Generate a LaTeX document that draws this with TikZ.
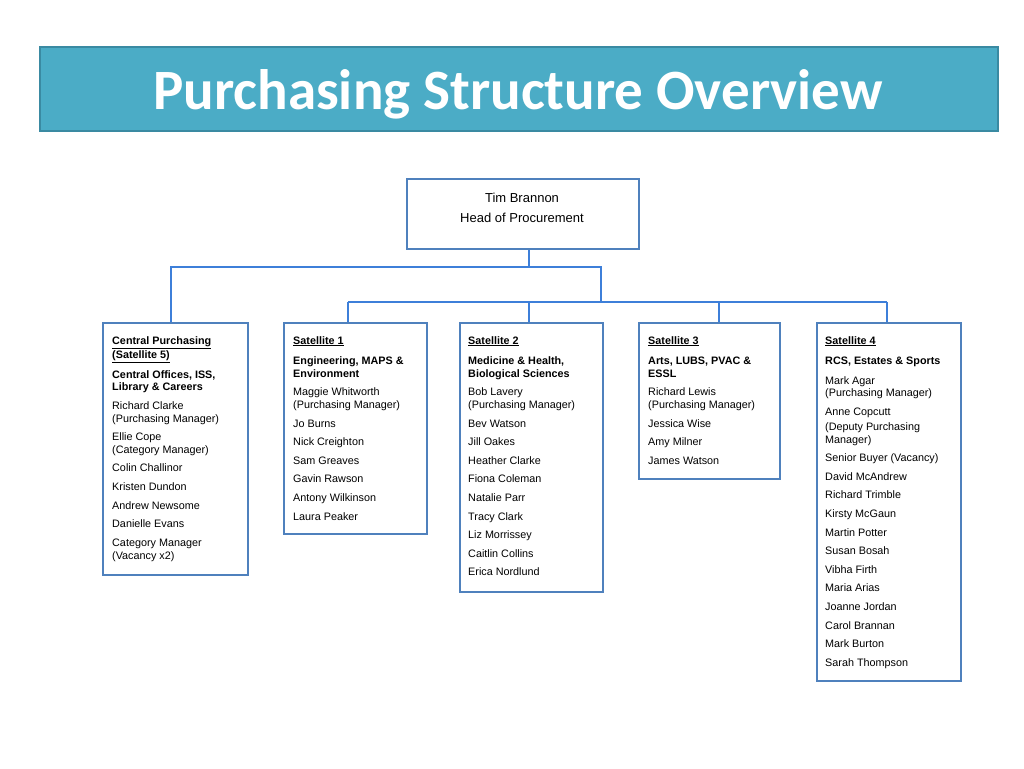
\documentclass[tikz,border=0pt]{standalone}
\usepackage{fontspec}
\setmainfont{Liberation Sans}
\newfontfamily\titlefont{Carlito}
\usetikzlibrary{calc}
\definecolor{titlefill}{HTML}{4BACC6}
\definecolor{titleedge}{HTML}{3A8AA2}
\definecolor{boxedge}{HTML}{4F81BD}
\definecolor{linkblue}{HTML}{3D7FD9}
\newcommand\hd[1]{\underline{\textbf{#1}}}
\begin{document}
\begin{tikzpicture}[x=1pt,y=-1pt,
  titlebox/.style={draw=titleedge, line width=2pt, fill=titlefill, anchor=north west, inner sep=0pt},
  orgbox/.style={draw=boxedge, line width=2pt, fill=white, anchor=north west, inner sep=0pt},
  txt/.style={anchor=north west, align=left, inner sep=0pt, font=\fontsize{10.8}{12.6}\selectfont},
  headtxt/.style={anchor=north, align=center, inner sep=0pt, font=\fontsize{13}{20}\selectfont},
  link/.style={draw=linkblue, line width=1.5pt}]
\fill[white] (0,0) rectangle (1024,768);
\useasboundingbox (0,0) rectangle (1024,768);

% title
\node[titlebox, minimum width=958pt, minimum height=84pt] (title) at (39,46) {};
\node[text=white, font=\titlefont\bfseries\fontsize{57}{60}\selectfont, inner sep=0pt] (titletxt) at (518,94) {Purchasing Structure Overview};

% head box
\node[orgbox, minimum width=232pt, minimum height=70pt] (head) at (406,178) {};
\node[headtxt] (headt) at (522,193) {Tim Brannon\\Head of Procurement};

% boxes
\node[orgbox, minimum width=145pt, minimum height=252pt] (c5) at (102,322) {};
\node[orgbox, minimum width=143pt, minimum height=211pt] (s1) at (283,322) {};
\node[orgbox, minimum width=143pt, minimum height=269pt] (s2) at (459,322) {};
\node[orgbox, minimum width=141pt, minimum height=156pt] (s3) at (638,322) {};
\node[orgbox, minimum width=144pt, minimum height=358pt] (s4) at (816,322) {};

% connectors
\coordinate (j0) at (529,267);
\coordinate (j1) at (171,267);
\coordinate (j2) at (601,267);
\coordinate (j3) at (601,302);
\coordinate (k1) at (348,302);
\coordinate (k2) at (529,302);
\coordinate (k3) at (719,302);
\coordinate (k4) at (887,302);
\draw[link] (head.south -| j0) -- (j0);
\draw[link] (c5.north -| j1) -- (j1) -- (j2) -- (j3);
\draw[link] (k1) -- (k4);
\draw[link] (k1) -- (k1 |- s1.north);
\draw[link] (k2) -- (k2 |- s2.north);
\draw[link] (k3) -- (k3 |- s3.north);
\draw[link] (k4) -- (k4 |- s4.north);

% texts
\node[txt] (c5t) at ($(c5.north west)+(10,14)$) {\hd{Central Purchasing}\\[2pt]\hd{(Satellite 5)}\\[7pt]
\textbf{Central Offices, ISS,}\\\textbf{Library \& Careers}\\[6pt]
Richard Clarke\\(Purchasing Manager)\\[6pt]
Ellie Cope\\(Category Manager)\\[6pt]
Colin Challinor\\[6pt]
Kristen Dundon\\[6pt]
Andrew Newsome\\[6pt]
Danielle Evans\\[6pt]
Category Manager\\[1pt](Vacancy x2)};

\node[txt] (s1t) at ($(s1.north west)+(10,14)$) {\hd{Satellite 1}\\[8pt]
\textbf{Engineering, MAPS \&}\\\textbf{Environment}\\[6pt]
Maggie Whitworth\\(Purchasing Manager)\\[6pt]
Jo Burns\\[6pt]
Nick Creighton\\[6pt]
Sam Greaves\\[6pt]
Gavin Rawson\\[6pt]
Antony Wilkinson\\[6pt]
Laura Peaker};

\node[txt] (s2t) at ($(s2.north west)+(9,14)$) {\hd{Satellite 2}\\[8pt]
\textbf{Medicine \& Health,}\\\textbf{Biological Sciences}\\[6pt]
Bob Lavery\\(Purchasing Manager)\\[6pt]
Bev Watson\\[6pt]
Jill Oakes\\[6pt]
Heather Clarke\\[6pt]
Fiona Coleman\\[6pt]
Natalie Parr\\[6pt]
Tracy Clark\\[6pt]
Liz Morrissey\\[6pt]
Caitlin Collins\\[6pt]
Erica Nordlund};

\node[txt] (s3t) at ($(s3.north west)+(10,14)$) {\hd{Satellite 3}\\[8pt]
\textbf{Arts, LUBS, PVAC \&}\\\textbf{ESSL}\\[6pt]
Richard Lewis\\(Purchasing Manager)\\[6pt]
Jessica Wise\\[6pt]
Amy Milner\\[6pt]
James Watson};

\node[txt] (s4t) at ($(s4.north west)+(9,14)$) {\hd{Satellite 4}\\[8pt]
\textbf{RCS, Estates \& Sports}\\[7pt]
Mark Agar\\(Purchasing Manager)\\[6pt]
Anne Copcutt\\[2.5pt](Deputy Purchasing\\Manager)\\[6pt]
Senior Buyer (Vacancy)\\[6pt]
David McAndrew\\[6pt]
Richard Trimble\\[6pt]
Kirsty McGaun\\[6pt]
Martin Potter\\[6pt]
Susan Bosah\\[6pt]
Vibha Firth\\[6pt]
Maria Arias\\[6pt]
Joanne Jordan\\[6pt]
Carol Brannan\\[6pt]
Mark Burton\\[6pt]
Sarah Thompson};
\end{tikzpicture}
\end{document}
